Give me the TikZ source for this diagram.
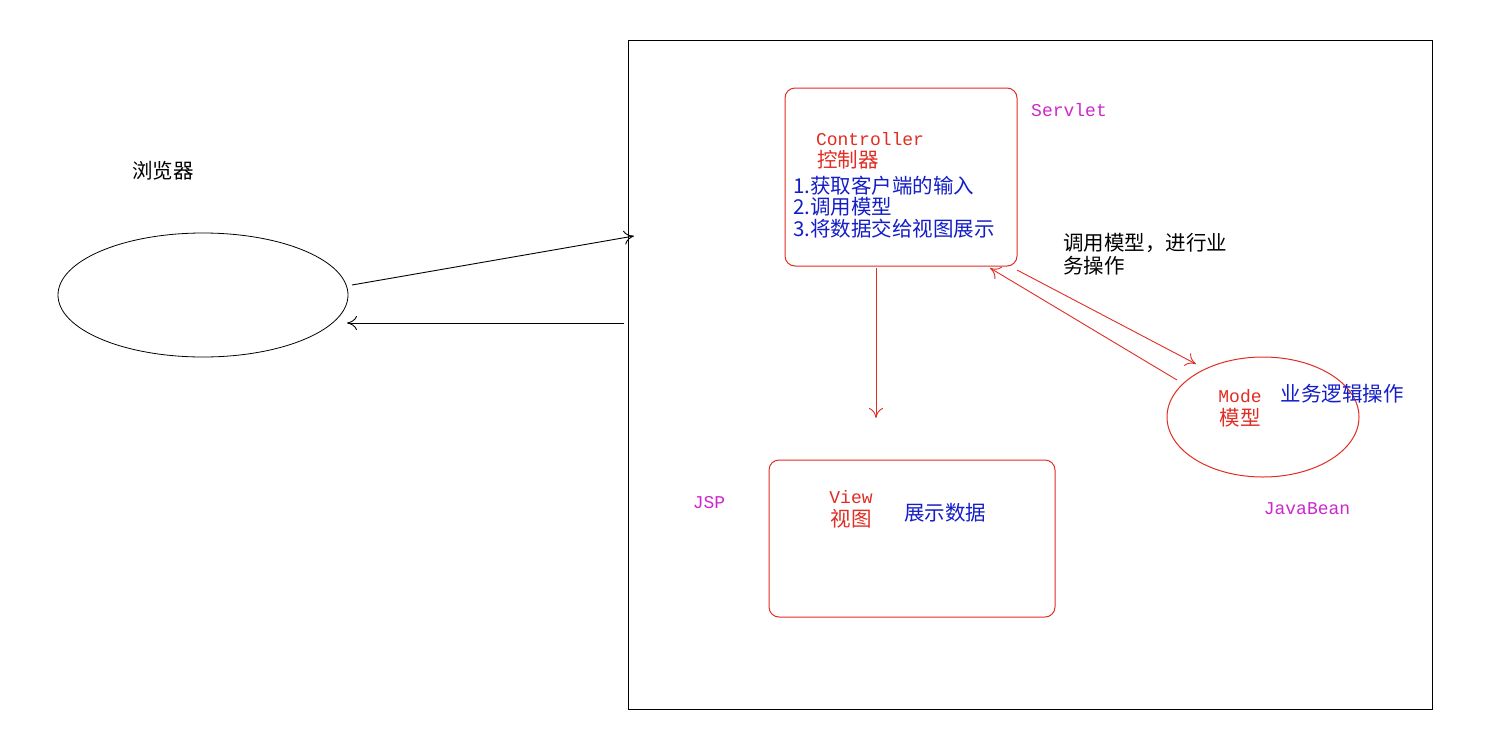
\documentclass[tikz,border=0pt]{standalone}
\usepackage{fontspec}
\setmonofont{Liberation Mono}
\newfontfamily\cjk{Noto Sans CJK SC}
\usetikzlibrary{arrows.meta,shapes.geometric}
\definecolor{rd}{RGB}{225,45,35}
\definecolor{bl}{RGB}{20,30,200}
\definecolor{mg}{RGB}{205,40,205}
\tikzset{
  lbl/.style={inner sep=0pt,font=\cjk\fontsize{20.5}{22}\selectfont},
  mono/.style={inner sep=0pt,font=\ttfamily\fontsize{18}{20}\selectfont},
  arr/.style={-{To[length=10pt,width=14pt]},line width=0.9pt},
  redbox/.style={draw=rd,line width=1pt,rounded corners=10pt}
}
\begin{document}
\begin{tikzpicture}[x=1pt,y=-1pt]
\useasboundingbox (0,0) rectangle (1504,750);
\fill[white] (0,0) rectangle (1504,750);
\draw[line width=1pt] (628,40) rectangle (1432,709);
\node[lbl] (br) at (163,171) {浏览器};
\node[draw,ellipse,minimum width=290pt,minimum height=124pt,line width=0.8pt,inner sep=0pt] (e) at (203,295) {};
\coordinate (a1) at (352,285); \coordinate (a2) at (634,236);
\coordinate (b1) at (624,323); \coordinate (b2) at (347,323);
\draw[arr,black] (a1) -- (a2);
\draw[arr,black] (b1) -- (b2);
\draw[redbox] (785,88) rectangle (1017,266);
\node[mono,text=rd] (ct) at (870,139) {Controller};
\node[lbl,text=rd] (ck) at (848,160) {控制器};
\node[lbl,text=bl,anchor=west] at (793,186) {1.获取客户端的输入};
\node[lbl,text=bl,anchor=west] at (793,207) {2.调用模型};
\node[lbl,text=bl,anchor=west] at (793,229) {3.将数据交给视图展示};
\node[mono,text=mg] (sv) at (1069,110) {Servlet};
\coordinate (c1) at (876,268); \coordinate (c2) at (876,418);
\draw[arr,rd] (c1) -- (c2);
\draw[redbox] (769,460) rectangle (1055,617);
\node[mono,text=rd] (vw) at (851,497) {View};
\node[lbl,text=rd] at (851,519) {视图};
\node[lbl,text=bl] at (945,513) {展示数据};
\node[mono,text=mg] at (709,503) {JSP};
\node[draw=rd,ellipse,minimum width=192pt,minimum height=120pt,line width=1pt,inner sep=0pt] (m) at (1263,417) {};
\node[mono,text=rd] at (1240,396) {Mode};
\node[lbl,text=rd] at (1240,418) {模型};
\node[lbl,text=bl] at (1342,394) {业务逻辑操作};
\node[mono,text=mg] at (1307,509) {JavaBean};
\coordinate (d1) at (1017,270); \coordinate (d2) at (1196,364);
\coordinate (e1) at (1177,380); \coordinate (e2) at (990,268);
\draw[arr,rd] (d1) -- (d2);
\draw[arr,rd] (e1) -- (e2);
\node[lbl,anchor=west] at (1063,243) {调用模型，进行业};
\node[lbl,anchor=west] at (1063,266) {务操作};
\end{tikzpicture}
\end{document}
